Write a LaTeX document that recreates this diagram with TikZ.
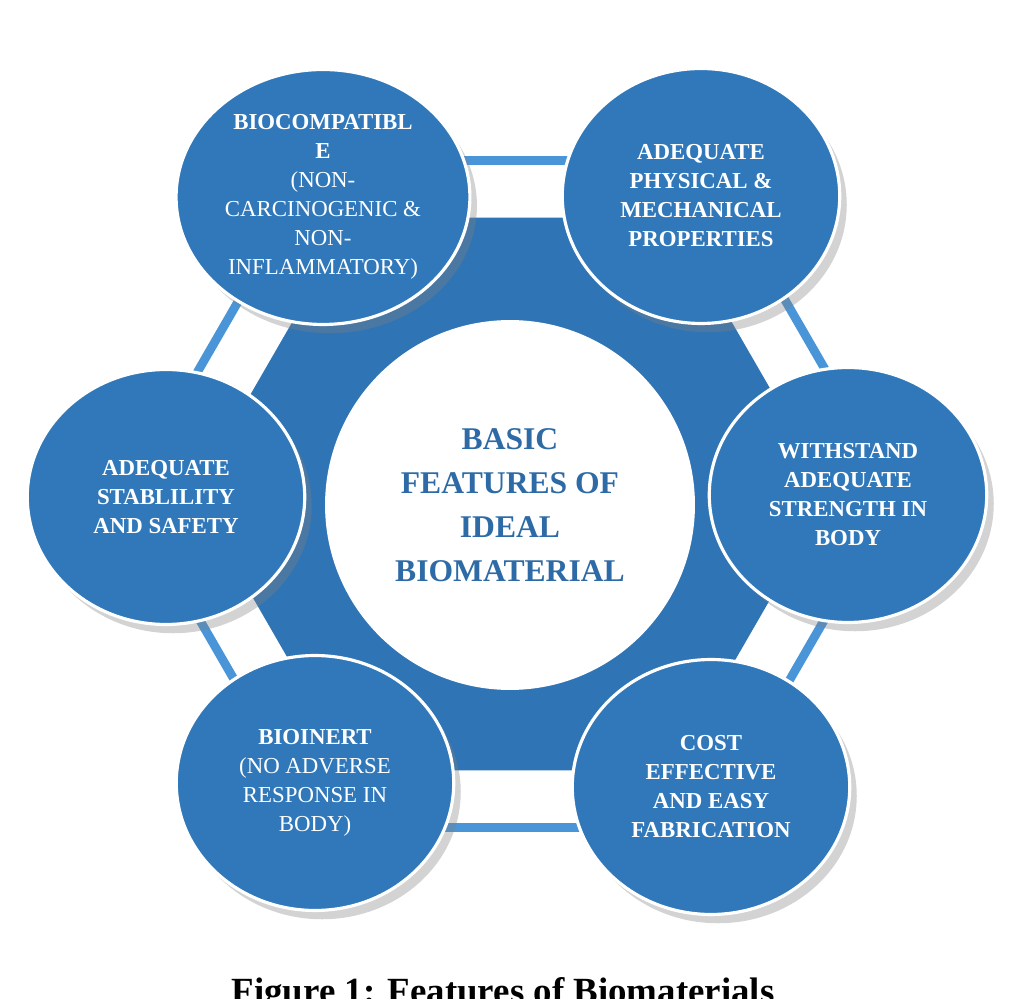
\documentclass[tikz,border=0pt]{standalone}
\usepackage{fontspec}
\setmainfont{Liberation Serif}
\usetikzlibrary{calc,shapes.geometric,shadows}
\definecolor{hexdark}{HTML}{2F74B5}
\definecolor{hexlight}{HTML}{4A94D8}
\definecolor{featblue}{HTML}{3078BA}
\definecolor{titleblue}{HTML}{2E6BA6}

\begin{document}
\begin{tikzpicture}[%
    x=0.02cm, y=-0.02cm,%
    feature/.style={ellipse, fill=featblue, draw=white, line width=1.8pt,%
      minimum width=5.55cm, minimum height=5.1cm, align=center,%
      text=white, font=\fontsize{13}{16.5}\selectfont,%
      drop shadow={opacity=0.35, shadow xshift=4pt, shadow yshift=-5pt}},%
    hub/.style={circle, fill=white, minimum size=7.4cm, align=center,%
      text=titleblue, font=\fontsize{18}{25}\bfseries\selectfont},%
  ]
  \useasboundingbox (0,0) rectangle (1011,999);

  %
  % Définitions
  %
  \pgfmathsetmacro{\xc}{512};%
  \pgfmathsetmacro{\yc}{494};%
  \pgfmathsetmacro{\rout}{385};%
  \pgfmathsetmacro{\rin}{319};%

  %
  % Dessin
  %
  % Hexagones
  \draw[hexlight, line width=5pt, line join=round]
    ($(\xc,\yc)+(0:\rout)$) \foreach \a in {60,120,...,300} { -- ($(\xc,\yc)+(\a:\rout)$) } -- cycle;
  \fill[hexdark]
    ($(\xc,\yc)+(0:\rin)$) \foreach \a in {60,120,...,300} { -- ($(\xc,\yc)+(\a:\rin)$) } -- cycle;

  % Centre
  \node[hub] (hub) at (510,505) {BASIC\\FEATURES OF\\IDEAL\\BIOMATERIAL};

  % Cercles
  \node[feature] (biocomp) at (323,197)
    {\textbf{BIOCOMPATIBL}\\\textbf{E}\\(NON-\\CARCINOGENIC \&\\NON-\\INFLAMMATORY)};
  \node[feature] (physical) at (701,196)
    {\textbf{ADEQUATE}\\\textbf{PHYSICAL \&}\\\textbf{MECHANICAL}\\\textbf{PROPERTIES}};
  \node[feature] (stability) at (166,497)
    {\textbf{ADEQUATE}\\\textbf{STABLILITY}\\\textbf{AND SAFETY}};
  \node[feature] (strength) at (848,495)
    {\textbf{WITHSTAND}\\\textbf{ADEQUATE}\\\textbf{STRENGTH IN}\\\textbf{BODY}};
  \node[feature] (bioinert) at (315,783)
    {\textbf{BIOINERT}\\(NO ADVERSE\\RESPONSE IN\\BODY)};
  \node[feature] (cost) at (711,787)
    {\textbf{COST}\\\textbf{EFFECTIVE}\\\textbf{AND EASY}\\\textbf{FABRICATION}};

  % Légende
  \node[anchor=base, font=\fontsize{21}{25}\bfseries\selectfont] (caption) at (503,1003)
    {Figure 1: Features of Biomaterials};
\end{tikzpicture}
\end{document}
